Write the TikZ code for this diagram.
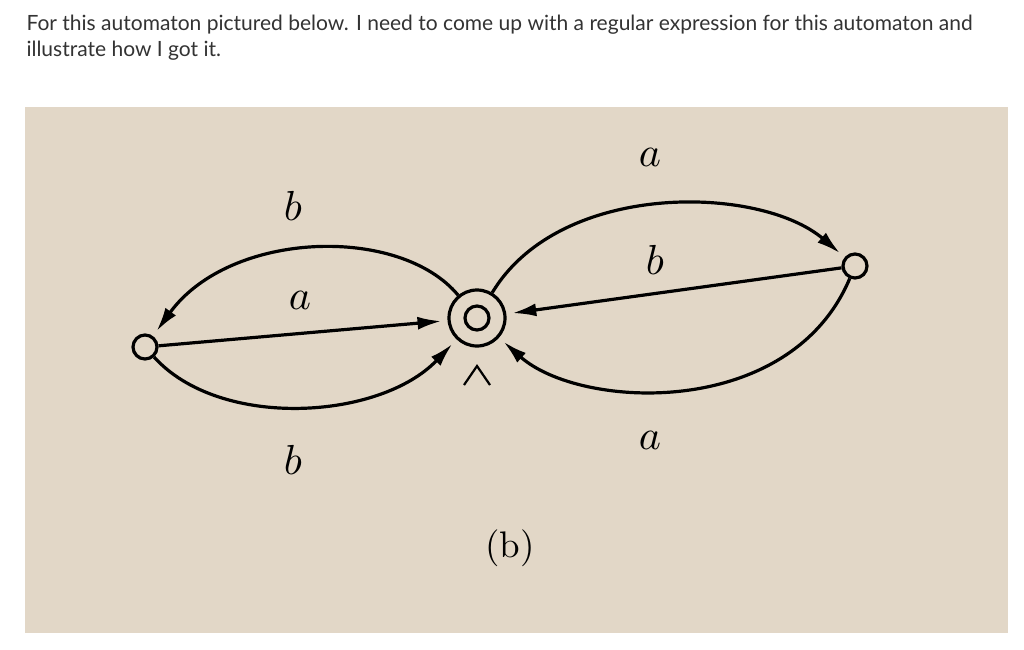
\documentclass[tikz,border=0pt]{standalone}
\usepackage{fontspec}
\setsansfont{Lato}
\usetikzlibrary{arrows.meta}
\begin{document}
\begin{tikzpicture}[x=1pt,y=-1pt,
  st/.style={circle,draw,line width=3.2pt,minimum size=24pt,inner sep=0pt},
  ed/.style={line width=3.2pt,-{Latex[length=24pt,width=13pt]},shorten >=6pt},
  lb/.style={scale=4.2}]
\useasboundingbox (0,0) rectangle (1024,649);
\fill[white] (0,0) rectangle (1024,649);
\node[anchor=west,text=black!80,font=\sffamily\fontsize{21}{26}\selectfont,align=left] (t1) at (23,38) {For this automaton pictured below. I need to come up with a regular expression for this automaton and\\illustrate how I got it.};
\fill[fill={rgb,255:red,226;green,215;blue,199}] (25,107) rectangle (1008,633);
\node[st] (L) at (145,347) {};
\node[circle,draw,line width=3.2pt,minimum size=56pt,inner sep=0pt] (C) at (477,318) {};
\node[circle,draw,line width=3.2pt,minimum size=24pt,inner sep=0pt] (Ci) at (477,318) {};
\node[st] (R) at (855,266) {};
\coordinate (s1) at (464,385);
\coordinate (s2) at (490,385);
\coordinate (s0) at (477,366);
\draw[line width=2.2pt] (s1) -- (s0) -- (s2);
\draw[ed] (L) -- (C);
\draw[ed] (C) .. controls (400,225) and (230,230) .. (L);
\draw[ed] (L) .. controls (220,430) and (380,420) .. (C);
\draw[ed] (C) .. controls (560,180) and (760,185) .. (R);
\draw[ed] (R) -- (C);
\draw[ed] (R) .. controls (790,420) and (580,410) .. (C);
\node[lb] (la1) at (300,300) {$a$};
\node[lb] (lb1) at (293,206) {$b$};
\node[lb] (lb2) at (293,460) {$b$};
\node[lb] (la2) at (650,157) {$a$};
\node[lb] (lb3) at (655,260) {$b$};
\node[lb] (la3) at (650,440) {$a$};
\node[scale=3.7] (cap) at (510,548) {(b)};
\end{tikzpicture}
\end{document}
